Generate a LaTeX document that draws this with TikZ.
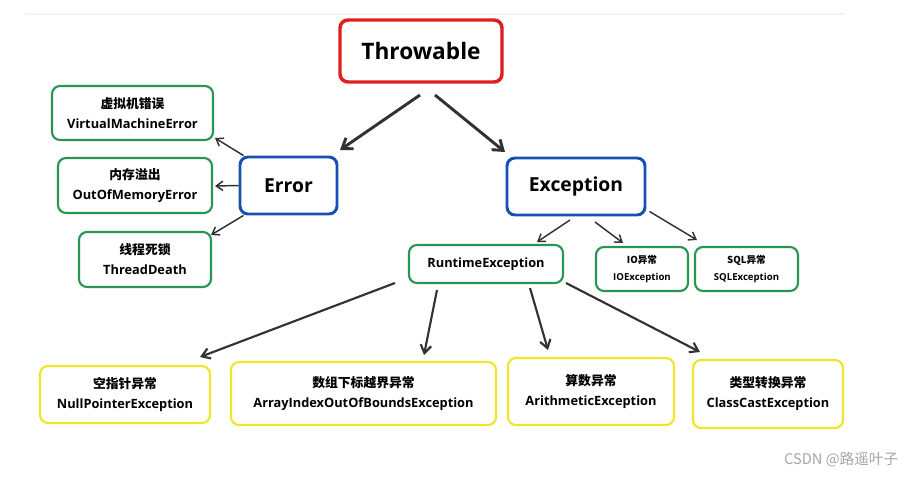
\documentclass[tikz,border=0pt]{standalone}
\usepackage{fontspec}
\setmainfont{Open Sans}
\newfontfamily\cjk{Noto Sans CJK SC}
\usetikzlibrary{arrows.meta}
\begin{document}
\begin{tikzpicture}[x=0.75pt,y=-0.75pt,
  box/.style={draw,rounded corners=6pt,line width=1.6pt,inner sep=0pt,align=center,font=\bfseries\fontsize{9.6}{15}\selectfont},
  gbox/.style={box,draw={rgb,255:red,40;green,150;blue,80}},
  ybox/.style={box,draw={rgb,255:red,240;green,230;blue,40}},
  bbox/.style={box,draw={rgb,255:red,20;green,80;blue,180},line width=2.2pt,font=\bfseries\fontsize{14.5}{16}\selectfont},
  big/.style={-{Straight Barb[length=7pt,width=10pt]},line width=2.2pt,draw={rgb,255:red,50;green,50;blue,50}},
  sm/.style={-{Straight Barb[length=5pt,width=7pt]},line width=1.1pt,draw={rgb,255:red,50;green,50;blue,50}},
  mid/.style={-{Straight Barb[length=6pt,width=8pt]},line width=1.6pt,draw={rgb,255:red,50;green,50;blue,50}}]
\useasboundingbox (0,0) rectangle (917,478);
\fill[white] (0,0) rectangle (917,478);
\draw[gray!10,line width=1pt] (25,14) -- (845,14);
\node[box,draw={rgb,255:red,225;green,30;blue,30},line width=2.6pt,minimum width=162*0.75pt,minimum height=62*0.75pt,font=\bfseries\fontsize{17}{19}\selectfont] (thr) at (421,51) {Throwable};
\node[bbox,minimum width=97*0.75pt,minimum height=57*0.75pt] (err) at (288.5,185.5) {Error};
\node[bbox,minimum width=138*0.75pt,minimum height=57*0.75pt] (exc) at (576,186.5) {Exception};
\node[gbox,minimum width=161*0.75pt,minimum height=54*0.75pt] (vme) at (132.5,113) {{\cjk 虚拟机错误}\\VirtualMachineError};
\node[gbox,minimum width=154*0.75pt,minimum height=55*0.75pt] (oom) at (135,185.5) {{\cjk 内存溢出}\\OutOfMemoryError};
\node[gbox,minimum width=132*0.75pt,minimum height=55*0.75pt] (td) at (145,259.5) {{\cjk 线程死锁}\\ThreadDeath};
\node[gbox,minimum width=154*0.75pt,minimum height=38*0.75pt] (rt) at (486,264) {RuntimeException};
\node[gbox,minimum width=92*0.75pt,minimum height=44*0.75pt,font=\bfseries\fontsize{7.2}{12.5}\selectfont] (io) at (642,269) {{\cjk IO异常}\\IOException};
\node[gbox,minimum width=103*0.75pt,minimum height=44*0.75pt,font=\bfseries\fontsize{7.2}{12.5}\selectfont] (sql) at (746.5,269) {{\cjk SQL异常}\\SQLException};
\node[ybox,minimum width=170*0.75pt,minimum height=57*0.75pt] (npe) at (125,394.5) {{\cjk 空指针异常}\\NullPointerException};
\node[ybox,minimum width=265*0.75pt,minimum height=63*0.75pt] (aio) at (363.5,393.5) {{\cjk 数组下标越界异常}\\ArrayIndexOutOfBoundsException};
\node[ybox,minimum width=166*0.75pt,minimum height=67*0.75pt] (ari) at (591,391.5) {{\cjk 算数异常}\\ArithmeticException};
\node[ybox,minimum width=150*0.75pt,minimum height=68*0.75pt] (cce) at (768,394) {{\cjk 类型转换异常}\\ClassCastException};
\node[text=gray!70,font=\cjk\fontsize{11}{13}\selectfont,anchor=east] (wm) at (903,460) {CSDN @路遥叶子};
\coordinate (t1) at (420,95); \coordinate (t2) at (435,95);
\draw[big] (t1) -- (340,150);
\draw[big] (t2) -- (505,152);
\draw[sm] (err.north west) ++(5,0) coordinate (e1) (e1) -- (215,138);
\draw[sm] (err.west) -- (215,186);
\draw[sm] (err.south west) ++(5,0) coordinate (e3) (e3) -- (211,235);
\coordinate (x1) at (570,220); \coordinate (x2) at (595,222);
\draw[sm] (x1) -- (537,242);
\draw[sm] (x2) -- (623,243);
\draw[sm] (exc.south east) ++(3,-5) coordinate (x3) (x3) -- (697,240);
\coordinate (r1) at (395,283); \coordinate (r2) at (437,290); \coordinate (r3) at (530,288); \coordinate (r4) at (566,283);
\draw[mid] (r1) -- (200,357);
\draw[mid] (r2) -- (424,355);
\draw[mid] (r3) -- (548,350);
\draw[mid] (r4) -- (700,352);
\end{tikzpicture}
\end{document}
